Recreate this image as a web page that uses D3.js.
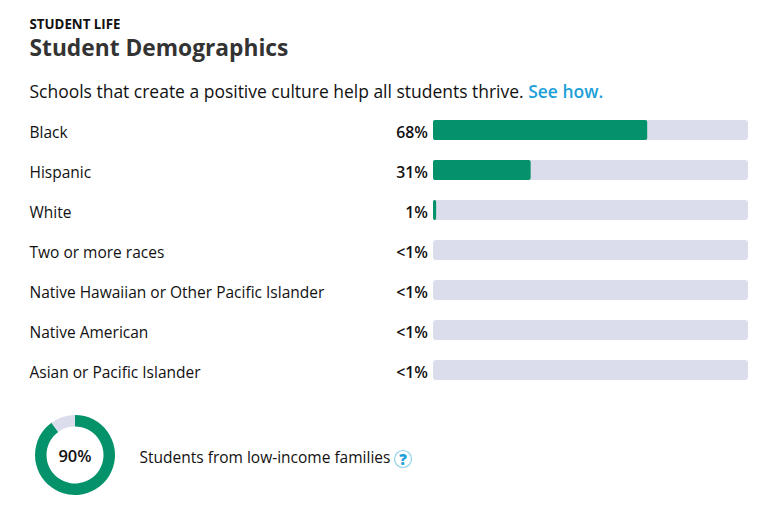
<!DOCTYPE html>
<html>
<head>
<meta charset="utf-8">
<script src="https://cdn.jsdelivr.net/npm/d3@7/dist/d3.min.js"></script>
<style>
html, body { margin: 0; padding: 0; background: #fff; }
svg { display: block; font-family: "Open Sans", sans-serif; }
</style>
</head>
<body>
<div id="graph"></div>
<script>
var categories = ["Black", "Hispanic", "White", "Two or more races", "Native Hawaiian or Other Pacific Islander", "Native American", "Asian or Pacific Islander"];
var values = [68, 31, 1, 0, 0, 0, 0];
var valueLabels = ["68%", "31%", "1%", "<1%", "<1%", "<1%", "<1%"];
var donutValues = [90, 10];

var green = "#03926a", track = "#dcddec";

var svg = d3.select("#graph").append("svg").attr("width", 761).attr("height", 508);

svg.append("text").attr("x", 29.5).attr("y", 29).attr("font-size", 13.3).attr("font-weight", 700).attr("fill", "#111").text("STUDENT LIFE");
svg.append("text").attr("x", 29.5).attr("y", 56).attr("font-size", 22.75).attr("font-weight", 700).attr("fill", "#333").text("Student Demographics");

var intro = svg.append("text").attr("x", 29.5).attr("y", 98).attr("font-size", 17.48).attr("fill", "#111");
intro.append("tspan").text("Schools that create a positive culture help all students thrive. ");
intro.append("tspan").attr("font-weight", 600).attr("fill", "#1c9fd8").text("See how.");

var x = d3.scaleLinear().domain([0, 100]).range([433, 748]);
var y = d3.scalePoint().domain(categories).range([130, 370]);
var barHeight = 20;

var rows = svg.selectAll("g.row").data(categories).enter().append("g").attr("class", "row");

rows.append("text").attr("x", 29.5).attr("y", function(d){ return y(d) + 8; })
    .attr("font-size", 15.5).attr("fill", "#111").text(function(d){ return d; });

rows.append("text").attr("x", 428).attr("y", function(d){ return y(d) + 8; })
    .attr("text-anchor", "end").attr("font-size", 15.8).attr("font-weight", 600).attr("fill", "#111")
    .text(function(d, i){ return valueLabels[i]; });

rows.append("rect").attr("x", x(0)).attr("y", function(d){ return y(d) - barHeight / 2; })
    .attr("width", x(100) - x(0)).attr("height", barHeight).attr("rx", 3).attr("fill", track);

rows.filter(function(d, i){ return values[i] > 0; }).append("rect")
    .attr("x", x(0)).attr("y", function(d){ return y(d) - barHeight / 2; })
    .attr("width", function(d){ return x(values[categories.indexOf(d)]) - x(0); })
    .attr("height", barHeight).attr("rx", 2).attr("fill", green);

var donut = svg.append("g").attr("transform", "translate(75,455)");
var pie = d3.pie().sort(null);
var arc = d3.arc().innerRadius(28.5).outerRadius(40);
donut.selectAll("path").data(pie(donutValues)).enter().append("path")
    .attr("d", arc).attr("fill", function(d, i){ return i == 0 ? green : track; });
donut.append("text").attr("y", 7).attr("text-anchor", "middle").attr("font-size", 16.5).attr("font-weight", 600)
    .attr("fill", "#111").text("90%");

svg.append("text").attr("x", 139.5).attr("y", 463).attr("font-size", 15.5).attr("fill", "#111").text("Students from low-income families");

var help = svg.append("g").attr("transform", "translate(403,459)");
help.append("circle").attr("r", 8.5).attr("fill", "#fff").attr("stroke", "#8fd2ee").attr("stroke-width", 1.2);
help.append("text").attr("y", 5.5).attr("text-anchor", "middle").attr("font-size", 15).attr("font-weight", 800).attr("fill", "#1c9fd8").text("?");
</script>
</body>
</html>
